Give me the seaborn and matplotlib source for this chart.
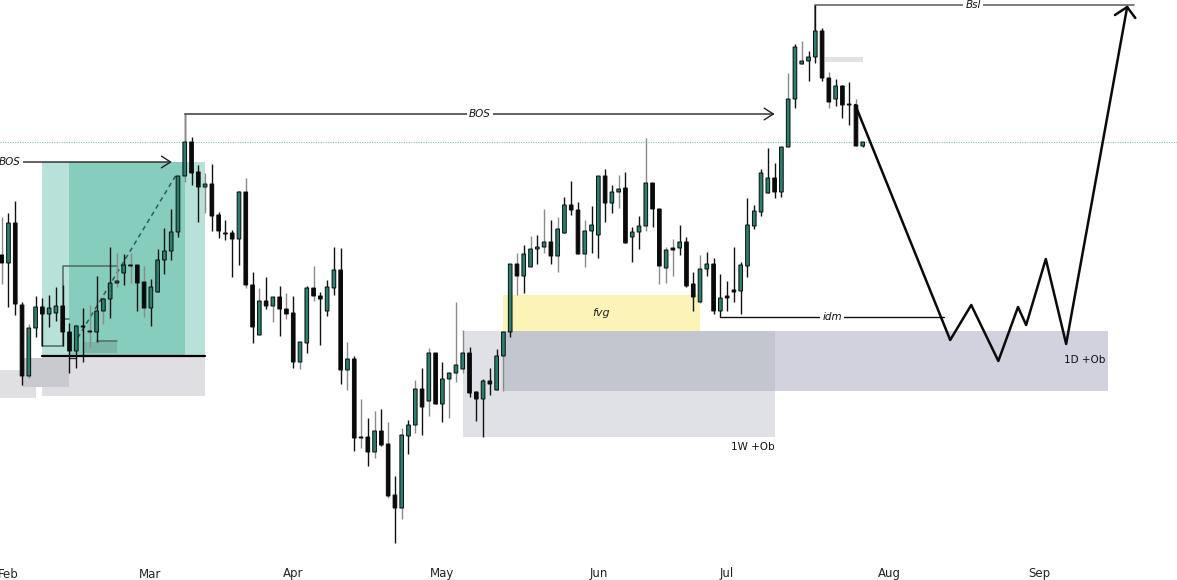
import numpy as np
import pandas as pd
import matplotlib
matplotlib.use("Agg")
import matplotlib.pyplot as plt
import seaborn as sns

opens = [325,317,357,275,204,252,273,266,267,274,248,229,254,249,248,269,281,297,307,315,
         315,298,272,288,320,329,348,404,438,408,393,396,365,347,347,341,388,295,245,279,
         274,283,271,267,218,237,292,284,269,292,310,210,221,143,143,128,149,136,85,72,
         144,155,191,179,227,176,201,207,211,227,188,181,199,190,224,248,316,304,313,331,
         333,338,324,347,375,370,326,349,345,404,377,388,392,343,348,354,397,371,312,332,
         332,338,296,278,311,316,269,284,290,289,314,354,368,387,402,388,433,481,516,519,
         523,549,502,481,494,476,475,434]
highs = [363,367,379,278,256,284,282,285,293,295,257,255,272,275,304,283,333,327,326,327,
         315,314,301,331,352,371,404,466,443,415,407,416,368,360,350,389,402,308,292,303,
         283,294,287,284,238,294,314,288,300,333,332,238,224,181,162,169,171,158,104,152,
         160,200,212,232,227,218,208,278,250,233,189,201,212,231,248,316,327,335,344,345,
         371,360,363,383,399,378,360,374,404,411,395,405,408,353,364,442,397,372,333,341,
         355,343,308,325,328,322,306,299,333,318,382,375,411,432,417,433,507,536,539,529,
         575,552,508,501,495,498,481,438]
lows = [296,273,265,195,202,243,234,253,259,234,207,212,218,233,238,256,262,293,295,297,
        269,263,254,288,306,320,343,398,395,358,367,349,342,340,303,315,292,237,245,271,
        258,244,261,212,211,227,279,235,264,285,196,190,129,132,114,122,134,82,37,61,
        126,147,145,164,176,158,162,198,207,183,159,143,185,190,189,243,285,287,313,316,
        327,316,308,347,365,326,313,327,322,358,367,372,337,318,331,349,353,296,297,304,
        325,293,269,277,304,266,263,269,278,266,303,351,364,387,382,383,433,472,516,499,
        517,499,472,474,462,455,434,433]
closes = [317,357,276,204,252,273,266,272,274,248,229,254,253,248,269,281,297,299,315,314,
          297,272,293,320,329,348,404,438,407,393,396,364,349,346,341,388,295,253,279,274,
          283,271,266,218,238,292,284,281,293,310,210,221,142,142,128,149,135,84,72,145,
          155,191,173,227,176,201,207,215,227,187,181,199,196,224,248,316,304,326,331,333,
          338,324,351,375,370,326,349,355,404,377,388,391,337,348,354,397,371,314,330,330,
          338,294,283,311,316,269,282,282,288,315,355,369,407,402,388,433,481,533,519,523,
          549,502,478,494,475,475,434,438]
gray_wicks = [0,4,13,15,17,19,21,27,30,36,38,40,42,44,46,51,53,55,57,59,61,63,66,67,68,
              74,76,78,80,82,86,91,95,97,98,99,103,116,118,122,126]
month_labels = ["Feb","Mar","Apr","May","Jun","Jul","Aug","Sep"]
month_ticks = [1,21.9,43,65,88,107,131,153]
projection_day = [125.9,139.9,143,147,149.9,151.1,154,157,166]
projection_price = [475,240,275,219,273,255,321,236,573]

df = pd.DataFrame({"day":np.arange(len(opens)),"open":opens,"high":highs,"low":lows,"close":closes})
df["up"] = df["close"] >= df["open"]
GREEN, BLACK = "#2a7f6f", "#0a0a0a"

sns.set_theme(style="white")
plt.rcParams["font.family"] = ["DejaVu Sans"]
fig = plt.figure(figsize=(11.77,5.8), dpi=100)
ax = fig.add_axes([0,0,1,1])
ax.set_xlim(-0.25,173.35); ax.set_ylim(0,580)
sns.despine(ax=ax, left=True, bottom=True)
ax.set_yticks([])
ax.set_xticks(month_ticks); ax.set_xticklabels(month_labels, fontsize=8.5, color="#222222")
ax.tick_params(axis="x", length=0, pad=-9)

def zone(d0,d1,p0,p1,color,z=1,alpha=1):
    ax.fill_between([d0,d1],p0,p1,color=color,lw=0,zorder=z,alpha=alpha)

zone(6,30,224,418,"#b7e1d9")
zone(10,27,224,418,"#86cdbe",z=1.1)
zone(6,30,184,224,"#dfdfe3")
zone(-0.5,5,182,210,"#e0e0e3")
zone(3,10,193,222,"#c9c9d0",z=1.2)
zone(12,17,227,238,"#76ab9f",z=1.2,alpha=.7)
zone(68,114,143,249,"#e0e1e6")
zone(74,163.2,189,249,"#d1d2dd",z=1.1)
zone(74,114,189,249,"#c3c5cf",z=1.2)
zone(74,103,249,285,"#fcf4b6")
zone(121.4,127,518,523,"#e2e2e2")

ax.axhline(438,color="#79c2ba",lw=.8,ls=(0,(1,1.2)),zorder=1.5)
ax.plot([6,30],[224,224],color="#000000",lw=1.6,zorder=2)
stepc = "#4d6a64"
ax.plot([6,6,9,9,17],[273,234,234,314,314],color=stepc,lw=1.1,zorder=2)
ax.plot([9,10],[261,261],color=stepc,lw=1.1,zorder=2)
ax.plot([14,17],[239,239],color=stepc,lw=1.1,zorder=2)
ax.plot([10,11],[222,222],color="#333333",lw=1,zorder=2)
ax.plot([11.2,25.9],[242,407],color="#2d5c54",lw=1.1,ls=(0,(3,2.5)),zorder=2)

# wicks and bodies of the candles
for i,r in df.iterrows():
    wc = "#8a8a8a" if i in gray_wicks else "#111111"
    ax.vlines(r.day,r.low,r.high,color=wc,lw=1,zorder=3)
top = df[["open","close"]].max(axis=1); bot = df[["open","close"]].min(axis=1)
bodies = ax.bar(df["day"],(top-bot).clip(lower=.8),bottom=bot,width=.54,
       color=[GREEN if u else BLACK for u in df["up"]],edgecolor="#0a0a0a",lw=.7,zorder=4)
for b in bodies:
    b.set_snap(False)

# drawn projection
sns.lineplot(x=projection_day,y=projection_price,sort=False,estimator=None,color="#0a0a0a",lw=1.8,ax=ax,zorder=5)
ax.plot([164.2,166,167.2],[565,573,562],color="#0a0a0a",lw=1.8,zorder=5)

arrow = dict(arrowstyle="->,head_length=0.55,head_width=0.35",color="#222222",lw=1,shrinkA=0,shrinkB=0)
ax.annotate("",xy=(25.1,418),xytext=(3.2,418),arrowprops=arrow,zorder=6)
ax.plot([27,27],[438,466],color="#222222",lw=1,zorder=2.5)
ax.annotate("",xy=(114,466),xytext=(27,466),arrowprops=arrow,zorder=2.5)
ax.plot([120,120,167],[550,575,575],color="#666666",lw=1.2,zorder=2.5)
ax.plot([106,139],[263,263],color="#111111",lw=1,zorder=2.5)

lab = dict(ha="center",va="center",style="italic",fontsize=7.5,color="#111111",zorder=7,
           bbox=dict(fc="white",ec="none",pad=1.5))
ax.text(1.2,418,"BOS",**lab)
ax.text(70.5,466,"BOS",**lab)
ax.text(143.3,575,"Bsl",**lab)
ax.text(122.5,263,"idm",**lab)
ax.text(88.4,267,"fvg",ha="center",va="center",style="italic",fontsize=8,color="#222222",zorder=7)
ax.text(110.8,133,"1W +Ob",ha="center",va="center",fontsize=7.5,color="#111111",zorder=7)
ax.text(159.8,220,"1D +Ob",ha="center",va="center",fontsize=7.5,color="#111111",zorder=7)

fig.savefig("out.png",dpi=100)
